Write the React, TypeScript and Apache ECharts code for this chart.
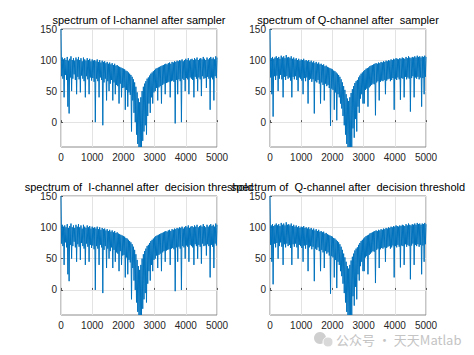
import React, { useEffect, useRef } from "react";
import * as echarts from "echarts";

// Sample spacing of the spectrum bins (x axis runs 0..5000)
const sampleStep = 20;

// Spectrum of the I-channel (same trace in both I plots)
const iSpectrum = [
  150, 74, 104, 70, 101, 40, 103, 76, 100, 68,
  105, 25, 99, 14, 102, 72, 106, 50, 100, 70,
  103, 77, 99, 68, 104, 45, 101, 73, 105, 69,
  100, 48, 103, 75, 98, 70, 104, 66, 101, 40,
  99, 74, 103, 69, 100, 45, 102, 72, 98, 67,
  101, 71, 99, 65, 100, 0, 98, 70, 101, 66,
  97, 40, 100, 72, 96, 68, 99, -5, 97, 64,
  98, 70, 95, 35, 97, 66, 94, 50, 96, 62,
  93, 68, 95, 35, 92, 64, 94, 45, 91, 60,
  92, 58, 90, 30, 89, 62, 88, 40, 87, 55,
  86, 56, 85, 20, 83, 52, 82, 25, 80, 48,
  78, 44, 76, -15, 73, 35, 69, 15, 64, 0,
  57, -20, 48, -35, 38, -40, 32, -40, 40, -40,
  50, -30, 57, -15, 62, -5, 66, -20, 70, 10,
  72, 30, 75, 15, 78, 40, 80, 30, 82, 48,
  84, 50, 86, 55, 87, 35, 88, 56, 89, 58,
  90, 30, 91, 60, 92, 62, 93, 45, 94, 63,
  93, 64, 95, 65, 96, 40, 94, 66, 97, 67,
  96, 65, 98, -2, 97, 68, 99, 45, 98, 69,
  100, 66, 99, 0, 101, 70, 98, 68, 100, 50,
  102, 71, 100, 69, 103, 45, 99, 72, 101, 70,
  102, 68, 100, 40, 103, 73, 101, 70, 104, 50,
  100, 72, 102, 69, 103, 42, 101, 74, 105, 70,
  102, 71, 100, 55, 104, 73, 101, 70, 103, 20,
  105, 72, 102, 69, 104, 35, 101, 74, 106, 71,
  104,
];

// Spectrum of the Q-channel (same trace in both Q plots)
const qSpectrum = [
  150, 72, 103, 45, 105, 9, 102, 74, 104, 68,
  106, 75, 103, 50, 105, 70, 102, 76, 107, 69,
  104, 40, 106, 73, 103, 68, 108, 74, 104, 70,
  105, 72, 103, 67, 106, 40, 102, 73, 104, 69,
  101, 74, 103, 68, 100, 50, 102, 72, 99, 70,
  101, 67, 100, 45, 102, 71, 99, 66, 100, 72,
  98, 30, 100, 68, 97, 70, 99, 65, 96, 69,
  98, 14, 95, 66, 97, 64, 94, 68, 96, 62,
  93, 30, 94, 64, 92, 60, 93, 35, 90, 62,
  91, 58, 89, 60, 88, 55, 87, -6, 86, 54,
  85, 52, 83, 20, 82, 48, 80, 3, 78, 45,
  76, 40, 73, 30, 69, 22, 64, 10, 58, -5,
  52, -20, 45, -35, 38, -40, 34, -40, 40, -40,
  47, -40, 53, -10, 58, -25, 63, 5, 66, -15,
  68, 25, 72, 15, 75, 38, 78, 45, 80, 30,
  82, 30, 84, 52, 86, 54, 87, 25, 88, 56,
  90, 58, 91, 60, 92, 62, 93, 61, 94, 11,
  95, 64, 94, 66, 96, 35, 95, 65, 97, 67,
  96, 66, 98, 68, 97, 45, 99, 67, 98, 69,
  100, 70, 99, 66, 101, 68, 100, 71, 102, 20,
  101, 70, 103, 68, 102, 72, 101, 69, 103, 36,
  102, 71, 104, 70, 103, 40, 102, 73, 105, 69,
  103, 72, 106, 70, 104, 17, 103, 71, 105, 74,
  104, 40, 106, 72, 104, 70, 107, 73, 105, 69,
  106, 72, 104, 25, 106, 71, 105, 45, 107, 73,
  105,
];

const titles = [
  "spectrum of I-channel after sampler",
  "spectrum of Q-channel after  sampler",
  "spectrum of  I-channel after  decision threshold",
  "spectrum of  Q-channel after  decision threshold",
];
const panelData = [iSpectrum, qSpectrum, iSpectrum, qSpectrum];

const xRange = { min: 0, max: 5000, interval: 1000 };
const yRange = { min: -40, max: 150 };
const yTickValues = [0, 50, 100, 150];

const FONT = "'Liberation Sans', Arial, Helvetica, sans-serif";

export default function App() {
  const ref = useRef<HTMLDivElement>(null);
  useEffect(() => {
    if (!ref.current) return;
    const chart = echarts.init(ref.current, undefined, { renderer: "svg" });
    const grids = [
      { left: 61, top: 29, width: 156, height: 118 },
      { left: 270, top: 29, width: 156, height: 118 },
      { left: 61, top: 196, width: 156, height: 119 },
      { left: 270, top: 196, width: 156, height: 119 },
    ];
    const option: any = {
      animation: false,
      backgroundColor: "#ffffff",
      title: grids.map((g, i) => ({
        text: titles[i],
        left: g.left + g.width / 2,
        top: g.top - 15,
        textAlign: "center",
        padding: 0,
        textStyle: {
          fontFamily: FONT,
          fontSize: 11,
          fontWeight: "normal",
          color: "#000",
        },
      })),
      grid: grids.map((g) => ({
        ...g,
        show: true,
        borderColor: "#8c8c8c",
        borderWidth: 1,
        backgroundColor: "transparent",
      })),
      xAxis: grids.map((_, i) => ({
        type: "value",
        gridIndex: i,
        min: xRange.min,
        max: xRange.max,
        interval: xRange.interval,
        axisLine: { show: false },
        axisTick: { show: true, inside: true, length: 2, lineStyle: { color: "#555" } },
        axisLabel: {
          fontFamily: FONT,
          fontSize: 10,
          color: "#262626",
          margin: 5,
          formatter: (v: number) => String(v),
        },
        splitLine: { show: true, lineStyle: { color: "#e3e3e3", width: 1 } },
      })),
      yAxis: grids.map((_, i) => ({
        type: "value",
        gridIndex: i,
        min: yRange.min,
        max: yRange.max,
        axisLine: { show: false },
        axisTick: {
          show: true,
          inside: true,
          length: 2,
          customValues: yTickValues,
          lineStyle: { color: "#555" },
        },
        axisLabel: {
          fontFamily: FONT,
          fontSize: 10,
          color: "#262626",
          margin: 4,
          customValues: yTickValues,
          formatter: (v: number) => String(v),
        },
        splitLine: {
          show: true,
          customValues: yTickValues,
          lineStyle: { color: "#e3e3e3", width: 1 },
        },
      })),
      series: panelData.map((arr, i) => ({
        type: "line",
        xAxisIndex: i,
        yAxisIndex: i,
        data: arr.map((v, k) => [k * sampleStep, v]),
        showSymbol: false,
        symbol: "none",
        clip: true,
        lineStyle: { color: "#0072BD", width: 1 },
      })),
      graphic: [
        { type: "circle", shape: { cx: 320, cy: 338, r: 6 }, style: { fill: "#cfcfcf" } },
        { type: "circle", shape: { cx: 328, cy: 342, r: 5 }, style: { fill: "#d9d9d9", stroke: "#fff", lineWidth: 1 } },
        {
          type: "text",
          x: 336,
          y: 339,
          style: {
            text: "公众号 · 天天Matlab",
            fontFamily: "'Noto Sans CJK SC', 'Noto Sans', sans-serif",
            fontSize: 13,
            fill: "#c4c4c4",
            verticalAlign: "middle",
          },
        },
      ],
    };
    chart.setOption(option);
    return () => chart.dispose();
  }, []);
  return (
    <div
      ref={ref}
      style={{ position: "fixed", left: 0, top: 0, width: 474, height: 355 }}
    />
  );
}
